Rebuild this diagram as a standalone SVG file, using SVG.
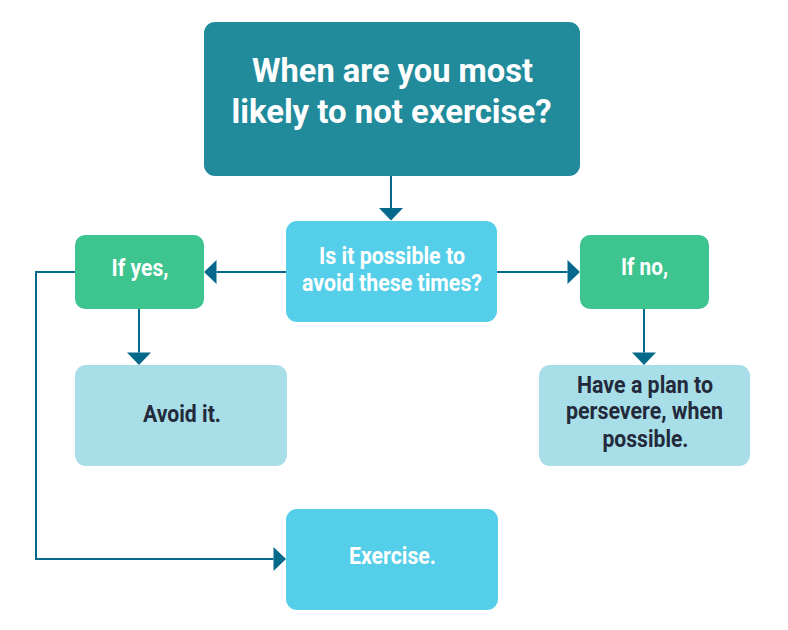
<svg xmlns="http://www.w3.org/2000/svg" width="788" height="630" viewBox="0 0 788 630">
<style>
.box{stroke:none}
.dark{fill:#218b9b}
.mid{fill:#55cfe9}
.green{fill:#3dc48f}
.light{fill:#a8dee7}
.t{font-family:Roboto,"Liberation Sans",sans-serif;font-weight:bold;text-anchor:middle}
.w{fill:#ffffff}
.k{fill:#222a3b}
.conn{fill:none;stroke:#04698b;stroke-width:2}
</style>
<defs>
<marker id="ah" markerUnits="userSpaceOnUse" markerWidth="13" markerHeight="24" refX="0" refY="12" orient="auto" overflow="visible">
<path d="M0,0 L12.5,12 L0,24 Z" fill="#04698b"/>
</marker>
</defs>
<rect width="788" height="630" fill="#ffffff"/>
<g id="connectors">
<path class="conn" d="M391,176 V208" marker-end="url(#ah)"/>
<path class="conn" d="M286,272 H216.5" marker-end="url(#ah)"/>
<path class="conn" d="M497,272 H567.5" marker-end="url(#ah)"/>
<path class="conn" d="M139,309 V352.5" marker-end="url(#ah)"/>
<path class="conn" d="M644,309 V352.5" marker-end="url(#ah)"/>
<path class="conn" d="M75,272 H36 V559 H273.5" marker-end="url(#ah)"/>
</g>
<g id="node-question">
<rect class="box dark" x="204" y="22" width="376" height="154" rx="11"/>
<text class="t w" x="392.5" y="82" font-size="33" textLength="281" lengthAdjust="spacingAndGlyphs">When are you most</text>
<text class="t w" x="391.5" y="123" font-size="33" textLength="320" lengthAdjust="spacingAndGlyphs">likely to not exercise?</text>
</g>
<g id="node-possible">
<rect class="box mid" x="286" y="221" width="211" height="101" rx="11"/>
<text class="t w" x="392" y="264" font-size="23" textLength="146" lengthAdjust="spacingAndGlyphs">Is it possible to</text>
<text class="t w" x="392" y="291" font-size="23" textLength="180" lengthAdjust="spacingAndGlyphs">avoid these times?</text>
</g>
<g id="node-yes">
<rect class="box green" x="75" y="235" width="129" height="74" rx="10"/>
<text class="t w" x="140" y="276" font-size="23" textLength="57" lengthAdjust="spacingAndGlyphs">If yes,</text>
</g>
<g id="node-no">
<rect class="box green" x="580" y="235" width="129" height="74" rx="10"/>
<text class="t w" x="644.5" y="275" font-size="23" textLength="47" lengthAdjust="spacingAndGlyphs">If no,</text>
</g>
<g id="node-avoid">
<rect class="box light" x="75" y="365" width="212" height="101" rx="11"/>
<text class="t k" x="182" y="422" font-size="23" textLength="78" lengthAdjust="spacingAndGlyphs">Avoid it.</text>
</g>
<g id="node-plan">
<rect class="box light" x="539" y="365" width="211" height="101" rx="11"/>
<text class="t k" x="645" y="393" font-size="23" textLength="136" lengthAdjust="spacingAndGlyphs">Have a plan to</text>
<text class="t k" x="644.5" y="419" font-size="23" textLength="157" lengthAdjust="spacingAndGlyphs">persevere, when</text>
<text class="t k" x="645.5" y="447" font-size="23" textLength="86" lengthAdjust="spacingAndGlyphs">possible.</text>
</g>
<g id="node-exercise">
<rect class="box mid" x="286" y="509" width="212" height="101" rx="11"/>
<text class="t w" x="392.5" y="564" font-size="23" textLength="87" lengthAdjust="spacingAndGlyphs">Exercise.</text>
</g>
</svg>
